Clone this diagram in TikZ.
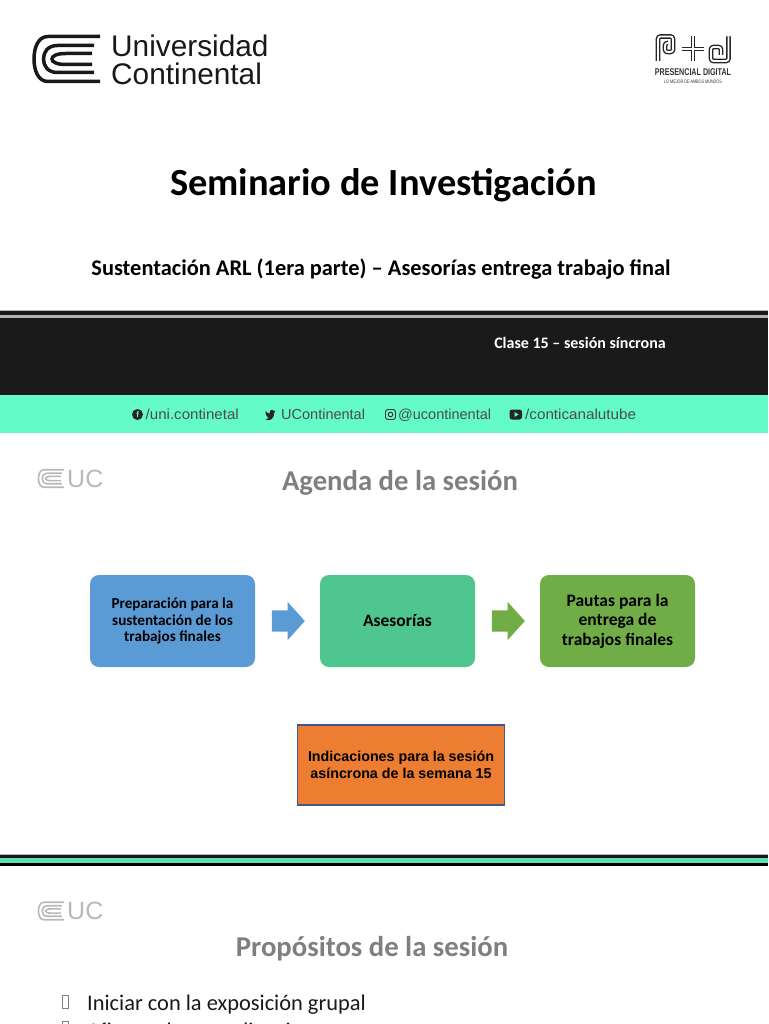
\documentclass[tikz,border=0pt]{standalone}
\usepackage{fontspec}
\setmainfont{Carlito}
\newfontfamily\arialfont{Liberation Sans}
\usetikzlibrary{shapes.arrows}
\definecolor{mintband}{HTML}{64FBC9}
\definecolor{darkband}{HTML}{1A1A1A}
\definecolor{slidegray}{HTML}{7F7F7F}
\definecolor{ucgray}{HTML}{B8B8B8}
\definecolor{boxblue}{HTML}{5B9BD5}
\definecolor{boxmint}{HTML}{4FC68F}
\definecolor{boxgreen}{HTML}{70AD47}
\definecolor{boxorange}{HTML}{ED7D31}
\definecolor{boxedge}{HTML}{41588A}
\tikzset{
  roundbox/.style={rounded corners=9pt,minimum height=92pt,align=center,text=black},
  blockarrow/.style={single arrow,minimum height=33pt,inner ysep=10.5pt,inner xsep=0pt,single arrow head extend=8.5pt,single arrow tip angle=96},
  handle/.style={font=\arialfont\fontsize{14.5}{17}\selectfont,text=black!70,anchor=base west,inner sep=0pt},
  slidetitle/.style={font=\bfseries\fontsize{28.7}{32}\selectfont,text=slidegray},
  pics/ucmark/.style={code={
    \foreach \a/\b/\c in {0/22.5/66,9.5/13.5/60,18/5.5/58}{
      \draw[line width=#1,line cap=butt] (\c,-\b) -- (\a+14,-\b) .. controls (\a+4,-\b) and (\a,-\b*0.5) .. (\a,0)
        .. controls (\a,\b*0.5) and (\a+4,\b) .. (\a+14,\b) -- (\c,\b);
    }
  }},
  pics/ucmark/.default=3.5pt
}
\begin{document}
\begin{tikzpicture}[x=1pt,y=-1pt]
  \useasboundingbox (0,0) rectangle (768,1024);
  % logos
  \pic[black!90] at (34,59) {ucmark};
  \node[anchor=west,font=\arialfont\fontsize{29.8}{28}\selectfont,text=black!90,align=left,inner sep=0pt] (ucname) at (111,59.5) {Universidad\\Continental};
  % presencial digital
  \foreach \oo/\gg in {4.6pt/black!85,1.8pt/white}{
    \draw[line width=\oo,color=\gg,rounded corners=2.5pt] (658,61) -- (658,36.5) -- (673,36.5) -- (673,52) -- (665,52) -- (665,43) -- (668,43);
    \draw[line width=\oo,color=\gg,rounded corners=2.5pt] (693,36.5) -- (693,61);
    \draw[line width=\oo,color=\gg,rounded corners=2.5pt] (682,49) -- (704,49);
    \draw[line width=\oo,color=\gg,rounded corners=2.5pt] (728.5,36.5) -- (728.5,61) -- (711,61) -- (711,47) -- (721,47) -- (721,55);
  }
  \node[font=\arialfont\bfseries\fontsize{9.8}{10}\selectfont,text=black!80,xscale=.73,inner sep=0pt] (pdname) at (693,72.5) {PRESENCIAL DIGITAL};
  \node[font=\arialfont\fontsize{5}{6}\selectfont,text=black!80,xscale=.75,inner sep=0pt] (pdline) at (693,82) {LO MEJOR DE AMBOS MUNDOS};
  % first slide
  \node[font=\bfseries\fontsize{38.4}{42}\selectfont] (maintitle) at (383.5,185) {Seminario de Investigación};
  \node[font=\bfseries\fontsize{22.4}{26}\selectfont] (subtitle) at (381,269) {Sustentación ARL (1era parte) – Asesorías entrega trabajo final};
  \fill[black!30] (0,309.5) rectangle (768,317.5);
  \fill[darkband] (0,311) rectangle (768,315);
  \fill[darkband] (0,317.5) rectangle (768,394.5);
  \fill[mintband] (0,394.5) rectangle (768,433);
  \node[font=\bfseries\fontsize{16}{18}\selectfont,text=white] (clase) at (580,343) {Clase 15 – sesión síncrona};
  % social row
  \fill[black!85] (137.5,414.5) circle (5.5);
  \node[font=\arialfont\bfseries\fontsize{8}{8}\selectfont,text=mintband,inner sep=0pt] (fbicon) at (137.8,415) {f};
  \node[handle,xscale=1.04] (fbname) at (145.5,419.5) {/uni.continetal};
  \fill[black!85] (265.5,411) .. controls (267.5,413.5) and (268.9,413.5) .. (269.6,413.5)
    .. controls (269.6,409.5) and (272.3,408.5) .. (273.7,411) -- (275.4,410.5) -- (274.2,413)
    .. controls (274.3,418) and (270.3,422) .. (265.5,419.5) .. controls (266.9,419.5) and (267.9,419) .. (268.6,418)
    .. controls (266.9,417.5) and (265.5,414.5) .. (265.5,411) -- cycle;
  \node[handle] (twname) at (281,419.5) {UContinental};
  \draw[black!80,line width=.9pt,rounded corners=2.5pt] (385.5,409.5) rectangle (395.5,419.5);
  \draw[black!80,line width=.9pt] (390.5,414.5) circle (2.3);
  \node[handle] (igname) at (398,419.5) {@ucontinental};
  \fill[black!85,rounded corners=2.5pt] (509.5,409.5) rectangle (522,419.5);
  \fill[mintband] (514.5,412) -- (518.5,414.5) -- (514.5,417) -- cycle;
  \node[handle,xscale=1.05] (ytname) at (525,419.5) {/conticanalutube};
  % second slide
  \pic[ucgray,scale=.39] at (38.5,478.5) {ucmark=1.6pt};
  \node[anchor=west,inner sep=0pt,font=\arialfont\fontsize{25}{25}\selectfont,text=ucgray] (uca) at (67,478.5) {UC};
  \pic[ucgray,scale=.39] at (38.5,911) {ucmark=1.6pt};
  \node[anchor=west,inner sep=0pt,font=\arialfont\fontsize{25}{25}\selectfont,text=ucgray] (ucb) at (67,911) {UC};
  \node[slidetitle] (agenda) at (400,483) {Agenda de la sesión};
  \node[roundbox,fill=boxblue,minimum width=165pt,font=\bfseries\fontsize{15.2}{16.5}\selectfont] (prep) at (172.5,621) {Preparación para la\\sustentación de los\\trabajos finales};
  \node[roundbox,fill=boxmint,minimum width=155pt,font=\bfseries\fontsize{17.5}{19}\selectfont] (ases) at (397.5,621) {Asesorías};
  \node[roundbox,fill=boxgreen,minimum width=155pt,font=\bfseries\fontsize{17.5}{19.5}\selectfont] (pautas) at (617.5,621) {Pautas para la\\entrega de\\trabajos finales};
  \node[blockarrow,fill=boxblue] (flecha) at (283.5,621) {};
  \node[blockarrow,fill=boxgreen] (flechb) at (503.5,621) {};
  \node[draw=boxedge,line width=1.2pt,fill=boxorange,minimum width=207pt,minimum height=80pt,align=center,font=\arialfont\bfseries\fontsize{14.3}{17}\selectfont] (indic) at (401,765) {Indicaciones para la sesión\\asíncrona de la semana 15};
  % stripe
  \fill[black!30] (0,853.5) rectangle (768,855);
  \fill[darkband] (0,855) rectangle (768,858);
  \fill[mintband!90!black] (0,858) rectangle (768,862.5);
  \fill[black] (0,862.5) rectangle (768,866);
  % third slide
  \node[slidetitle] (propositos) at (372,949) {Propósitos de la sesión};
  \draw[black!50,line width=.7pt] (62,995) rectangle (68,1008);
  \node[anchor=west,inner sep=0pt,font=\fontsize{22.4}{24}\selectfont,text=black!90] (itema) at (87,1004.5) {Iniciar con la exposición grupal};
  \begin{scope}
    \clip (0,1000) rectangle (768,1024);
    \draw[black!50,line width=.7pt] (62,1021) rectangle (68,1034);
    \node[anchor=west,inner sep=0pt,font=\fontsize{22.4}{24}\selectfont,text=black!90] (itemb) at (87,1030.5) {Afianzar las coordinaciones};
  \end{scope}
\end{tikzpicture}
\end{document}
